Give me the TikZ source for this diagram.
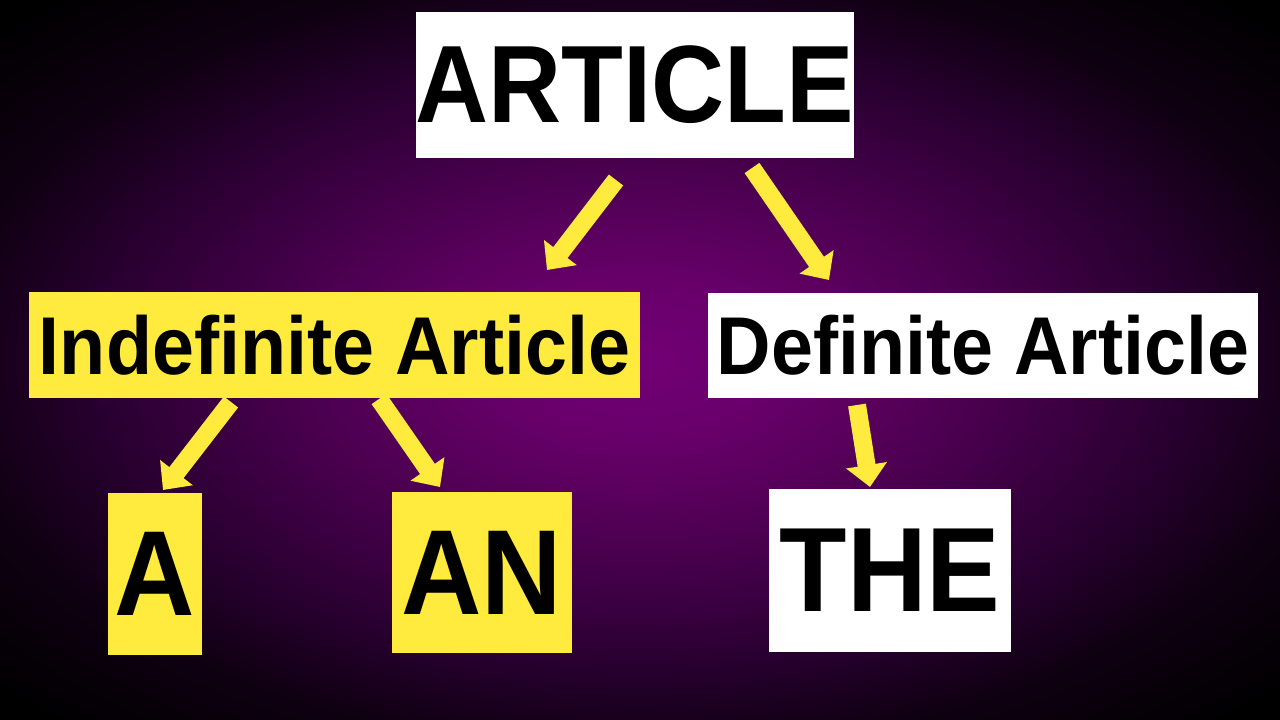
\documentclass[tikz,border=0pt]{standalone}
\usepackage{fontspec}
\setmainfont{Liberation Sans}
\newfontfamily\roundfont[FakeStretch=0.92]{Liberation Sans}
\usepackage{tikz}
\usetikzlibrary{arrows.meta}
\definecolor{boxyellow}{RGB}{255,234,62}
\pgfdeclareradialshading{purpleglow}{\pgfpoint{0bp}{0bp}}{%
  rgb(0bp)=(0.45,0,0.46); rgb(6bp)=(0.40,0,0.41); rgb(14bp)=(0.28,0,0.30);
  rgb(21bp)=(0.16,0,0.19); rgb(27bp)=(0.06,0,0.07); rgb(34bp)=(0,0,0);
  rgb(50bp)=(0,0,0)}

\begin{document}
\begin{tikzpicture}[x=1pt,y=-1pt,
    whitebox/.style={fill=white,inner sep=0pt,text=black},
    yellowbox/.style={fill=boxyellow,inner sep=0pt,text=black},
    fatarrow/.style={draw=boxyellow,line width=18pt,-{Triangle[width=40pt,length=22pt]}}]
      % background
      \shade[shading=purpleglow] (0,0) rectangle (1280,720);
      \useasboundingbox (0,0) rectangle (1280,720);

      \node[whitebox,minimum width=436pt,minimum height=146pt,
        font=\roundfont\bfseries\fontsize{110}{120}\selectfont] (article) at (635,85) {ARTICLE};

      \node[yellowbox,minimum width=611pt,minimum height=106pt,
        font=\roundfont\bfseries\fontsize{82}{90}\selectfont] (indef) at (334.5,345) {Indefinite Article};
      \node[whitebox,minimum width=550pt,minimum height=105pt,
        font=\roundfont\bfseries\fontsize{82}{90}\selectfont] (def) at (983,345.5) {Definite Article};

      \node[yellowbox,minimum width=94pt,minimum height=162pt,
        font=\roundfont\bfseries\fontsize{121}{130}\selectfont] (a) at (155,574) {A};
      \node[yellowbox,minimum width=180pt,minimum height=161pt,
        font=\roundfont\bfseries\fontsize{121}{130}\selectfont] (an) at (482,572.5) {AN};
      \node[whitebox,minimum width=242pt,minimum height=163pt,
        font=\roundfont\bfseries\fontsize{120}{130}\selectfont] (the) at (890,570.5) {THE};

      % arrow ends
      \coordinate (articleL) at (616,180);
      \coordinate (indefT) at (547,270);
      \coordinate (articleR) at (752,168);
      \coordinate (defT) at (829,280);
      \coordinate (indefL) at (231,402);
      \coordinate (aT) at (163,490);
      \coordinate (indefR) at (379,399);
      \coordinate (anT) at (440,487);
      \coordinate (defB) at (857,405);
      \coordinate (theT) at (870,487);

      \draw[fatarrow] (articleL) -- (indefT);
      \draw[fatarrow] (articleR) -- (defT);
      \draw[fatarrow] (indefL) -- (aT);
      \draw[fatarrow] (indefR) -- (anT);
      \draw[fatarrow] (defB) -- (theT);
\end{tikzpicture}
\end{document}
